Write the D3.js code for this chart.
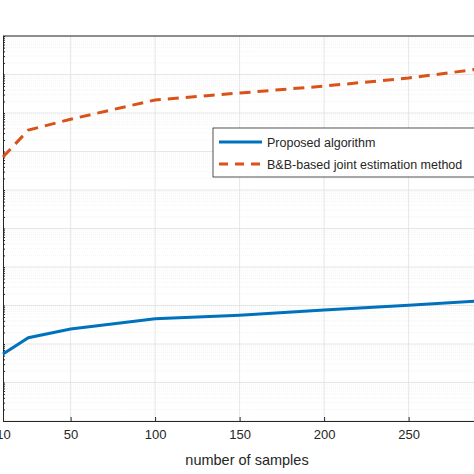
<!DOCTYPE html>
<html><head><meta charset="utf-8">
<script src="https://cdn.jsdelivr.net/npm/d3@7"></script>
<style>body{margin:0;background:#fff}text{font-family:"Liberation Sans",Arial,sans-serif}</style>
</head><body><svg id="c" width="474" height="474"></svg>
<script>
const samples = [10, 25, 50, 100, 150, 200, 250, 300];
const proposed = [0.055, 0.145, 0.245, 0.45, 0.56, 0.76, 1.02, 1.38];
const bnb = [7200, 36000, 69000, 218000, 330000, 500000, 810000, 1550000];
const xTicks = [10, 50, 100, 150, 200, 250];
const xLabels = ["10", "50", "100", "150", "200", "250"];

const svg = d3.select("#c");
const yTop = 36, yBottom = 421, xLeft = 3;
const xs = d3.scaleLinear().domain([10, 300]).range([xLeft, xLeft + 290 * 1.69]);
const ys = d3.scaleLog().domain([1e-3, 1e7]).range([yBottom, yTop]);

// grid: minor then major
const minor = [];
for (let e = -3; e < 7; e++) for (let m = 2; m <= 9; m++) minor.push(m * Math.pow(10, e));
svg.append("g").selectAll("line").data(minor).enter().append("line")
	.attr("x1", xLeft).attr("x2", 474).attr("y1", d => ys(d)).attr("y2", d => ys(d))
	.attr("stroke", "#ececec").attr("stroke-width", 0.6).attr("stroke-dasharray", "1,1");
const major = d3.range(-3, 8).map(e => Math.pow(10, e));
svg.append("g").selectAll("line").data(major).enter().append("line")
	.attr("x1", xLeft).attr("x2", 474).attr("y1", d => ys(d)).attr("y2", d => ys(d))
	.attr("stroke", "#e0e0e0").attr("stroke-width", 0.8);
svg.append("g").selectAll("line").data(xTicks.slice(1)).enter().append("line")
	.attr("x1", d => xs(d)).attr("x2", d => xs(d)).attr("y1", yTop).attr("y2", yBottom)
	.attr("stroke", "#e0e0e0").attr("stroke-width", 0.8);

// axes
const xa = svg.append("g").attr("transform", `translate(0,${yBottom})`)
	.call(d3.axisBottom(xs).tickValues(xTicks).tickFormat((d, i) => xLabels[i]).tickSizeInner(-4).tickSizeOuter(0).tickPadding(9));
xa.select(".domain").attr("stroke", "#262626");
xa.selectAll("line").attr("stroke", "#262626");
xa.selectAll("text").attr("font-size", 13).attr("fill", "#262626").style("font-family", "Liberation Sans, Arial");
const ya = svg.append("g").attr("transform", `translate(${xLeft},0)`)
	.call(d3.axisLeft(ys).tickValues(minor.concat(major)).tickFormat("").tickSizeInner(-2).tickSizeOuter(0));
ya.selectAll("line").attr("stroke", "#262626");
ya.select(".domain").attr("stroke", "#262626");
svg.append("line").attr("x1", xLeft).attr("x2", 474).attr("y1", yTop).attr("y2", yTop).attr("stroke", "#262626");

const line = d3.line().x((d, i) => xs(samples[i])).y(d => ys(d));
svg.append("path").datum(proposed).attr("d", line).attr("fill", "none")
	.attr("stroke", "#0072bd").attr("stroke-width", 3);
svg.append("path").datum(bnb).attr("d", line).attr("fill", "none")
	.attr("stroke", "#d95319").attr("stroke-width", 3).attr("stroke-dasharray", "11,7");

// legend
const lg = svg.append("g");
lg.append("rect").attr("x", 213).attr("y", 128).attr("width", 280).attr("height", 49)
	.attr("fill", "#fff").attr("stroke", "#262626").attr("stroke-width", 0.8);
lg.append("line").attr("x1", 219).attr("x2", 262).attr("y1", 142).attr("y2", 142)
	.attr("stroke", "#0072bd").attr("stroke-width", 3);
lg.append("line").attr("x1", 219).attr("x2", 262).attr("y1", 164).attr("y2", 164)
	.attr("stroke", "#d95319").attr("stroke-width", 3).attr("stroke-dasharray", "9,7");
lg.append("text").attr("x", 267).attr("y", 146.5).attr("font-size", 12.5).attr("fill", "#262626").text("Proposed algorithm");
lg.append("text").attr("x", 267).attr("y", 168.5).attr("font-size", 12.5).attr("fill", "#262626").text("B&B-based joint estimation method");

svg.append("text").attr("x", 247).attr("y", 465).attr("text-anchor", "middle")
	.attr("font-size", 14.5).attr("fill", "#262626").text("number of samples");
</script></body></html>
